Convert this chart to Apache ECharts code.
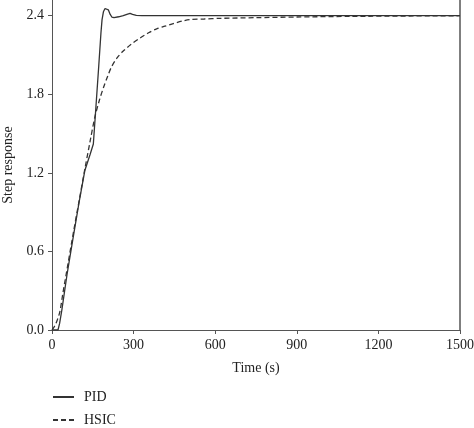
<!DOCTYPE html>
<html>
<head>
<meta charset="utf-8">
<script src="https://cdn.jsdelivr.net/npm/echarts@6/dist/echarts.min.js"></script>
<style>
  html, body { margin: 0; padding: 0; background: #fff; }
  #chart { width: 474px; height: 428px; }
</style>
</head>
<body>
<div id="chart"></div>
<script>
  // step response data
  var pidTime = [0, 22, 28, 36, 55, 78, 100, 121, 140, 152, 158, 165, 172, 180, 184, 189, 195, 201, 207, 214, 220, 228, 245, 262, 278, 287, 296, 310, 330, 500, 800, 1100, 1500];
  var pidValue = [0, 0, 0.05, 0.15, 0.42, 0.71, 0.98, 1.22, 1.34, 1.42, 1.60, 1.81, 2.02, 2.27, 2.37, 2.43, 2.455, 2.463, 2.445, 2.41, 2.39, 2.385, 2.392, 2.40, 2.412, 2.418, 2.41, 2.402, 2.40, 2.40, 2.40, 2.40, 2.40];
  var hsicTime = [0, 10, 20, 29, 40, 60, 80, 100, 120, 140, 158, 175, 189, 205, 219, 240, 262, 290, 324, 355, 385, 415, 446, 480, 507, 560, 618, 750, 900, 1100, 1500];
  var hsicValue = [0, 0.03, 0.08, 0.14, 0.28, 0.52, 0.76, 0.99, 1.22, 1.44, 1.63, 1.76, 1.85, 1.94, 2.01, 2.08, 2.13, 2.18, 2.23, 2.27, 2.30, 2.32, 2.34, 2.36, 2.37, 2.375, 2.38, 2.385, 2.39, 2.395, 2.40];
  var xTicks = [0, 300, 600, 900, 1200, 1500];
  var yTicks = [0, 0.6, 1.2, 1.8, 2.4];

  function pairs(ts, vs) {
    return ts.map(function (t, i) { return [t, vs[i]]; });
  }

  var font = 'Liberation Serif';
  var axisColor = '#555';
  var textColor = '#222';
  var fs = 14;

  var myChart = echarts.init(document.getElementById('chart'));
  myChart.setOption({
    animation: false,
    grid: { left: 52, right: 14, top: 0, bottom: 98, outerBoundsMode: 'none', containLabel: false },
    legend: {
      orient: 'vertical',
      left: 52,
      top: 390,
      padding: 0,
      itemWidth: 21,
      itemHeight: 14,
      itemGap: 9,
      itemStyle: { opacity: 0 },
      textStyle: { fontFamily: font, fontSize: fs, color: textColor, padding: [0, 0, 0, 5] },
      data: ['PID', 'HSIC']
    },
    xAxis: {
      type: 'value',
      min: 0,
      max: 1500,
      interval: 300,
      name: 'Time (s)',
      nameLocation: 'middle',
      nameGap: 31,
      nameTextStyle: { fontFamily: font, fontSize: fs, color: textColor },
      axisLine: { lineStyle: { color: axisColor, width: 1 } },
      axisTick: { length: 4, lineStyle: { color: axisColor }, customValues: xTicks },
      axisLabel: {
        fontFamily: font, fontSize: fs, color: textColor, margin: 8,
        customValues: xTicks,
        formatter: function (v) { return String(v); }
      },
      splitLine: { show: false }
    },
    yAxis: [{
      type: 'value',
      min: 0,
      max: 2.52,
      name: 'Step response',
      nameLocation: 'middle',
      nameGap: 36,
      nameTextStyle: { fontFamily: font, fontSize: fs, color: textColor },
      axisLine: { show: true, lineStyle: { color: axisColor, width: 1 } },
      axisTick: { show: true, length: 4, lineStyle: { color: axisColor }, customValues: yTicks },
      axisLabel: {
        fontFamily: font, fontSize: fs, color: textColor, margin: 8,
        customValues: yTicks,
        formatter: function (v) { return v.toFixed(1); }
      },
      splitLine: { show: false }
    }, {
      // right frame line only
      type: 'value',
      position: 'right',
      min: 0,
      max: 2.52,
      axisLine: { show: true, lineStyle: { color: axisColor, width: 1.5 } },
      axisTick: { show: false },
      axisLabel: { show: false },
      splitLine: { show: false }
    }],
    series: [{
      name: 'PID',
      type: 'line',
      symbol: 'none',
      data: pairs(pidTime, pidValue),
      lineStyle: { color: '#333', width: 1.3, type: 'solid' },
      itemStyle: { color: '#333' }
    }, {
      name: 'HSIC',
      type: 'line',
      symbol: 'none',
      smooth: 0.3,
      data: pairs(hsicTime, hsicValue),
      lineStyle: { color: '#333', width: 1.3, type: [5, 3] },
      itemStyle: { color: '#333' }
    }]
  });
</script>
</body>
</html>
